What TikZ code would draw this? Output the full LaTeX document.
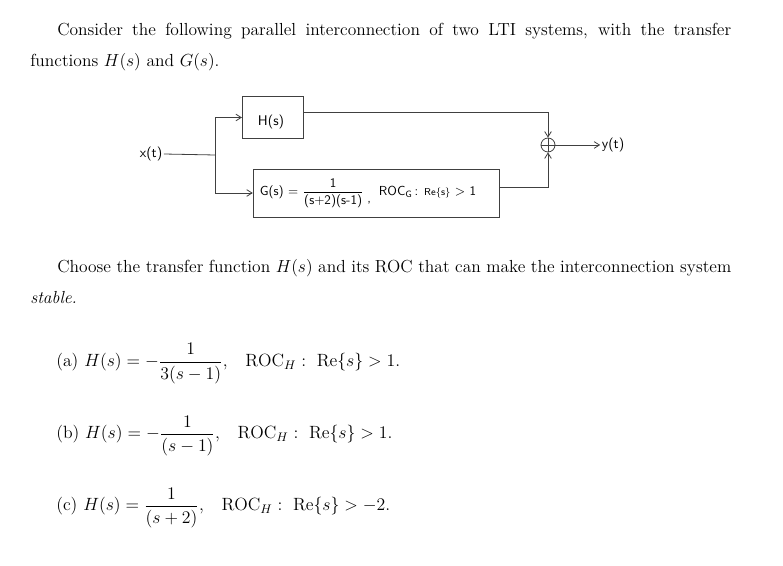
\RequirePackage{fix-cm}
\documentclass[tikz,border=0pt]{standalone}
\usepackage{amsmath}
\usepackage{fontspec}
\usetikzlibrary{arrows.meta}
\tikzset{
  txt/.style={anchor=base west, inner sep=0pt, font=\fontsize{13.1}{15}\selectfont},
  opt/.style={anchor=base west, inner sep=0pt, font=\fontsize{13.3}{15}\selectfont},
  hand/.style={inner sep=1pt, font=\fontsize{10.5}{12}\sffamily\addfontfeature{LetterSpace=8}},
  handline/.style={line width=0.6pt, draw=black!75},
  handarrow/.style={handline, -{Straight Barb[length=4pt,width=5pt]}},
  blockbox/.style={handline, rectangle, inner sep=0pt},
}
\begin{document}
\begin{tikzpicture}[x=0.75pt,y=-0.75pt]
\useasboundingbox[fill=white] (0,0) rectangle (783,566);
% text
\node[txt] (l1) at (57,36) {\makebox[505.5pt][s]{Consider the following parallel interconnection of two LTI systems, with the transfer}};
\node[txt] (l2) at (30,67) {functions $H(s)$ and $G(s)$.};
\node[txt] (l3) at (57,273) {\makebox[505.5pt][s]{Choose the transfer function $H(s)$ and its ROC that can make the interconnection system}};
\node[txt] (l4) at (30,304) {\textit{stable.}};
% options
\node[opt] (oa) at (56,367) {(a) $H(s) = -\dfrac{1}{3(s-1)}$,\quad $\mathrm{ROC}_H:\ \mathrm{Re}\{s\}>1.$};
\node[opt] (ob) at (56,439) {(b) $H(s) = -\dfrac{1}{(s-1)}$,\quad $\mathrm{ROC}_H:\ \mathrm{Re}\{s\}>1.$};
\node[opt] (oc) at (56,511) {(c) $H(s) = \dfrac{1}{(s+2)}$,\quad $\mathrm{ROC}_H:\ \mathrm{Re}\{s\}>-2.$};
% diagram
\node[hand] (x) at (151,154) {x(t)};
\coordinate (j) at (215,155);
\node[blockbox, minimum width=46pt, minimum height=32pt] (h) at (273,117.5) {};
\node[hand] (hl) at (271,122) {H(s)};
\node[blockbox, minimum width=185pt, minimum height=36pt] (g) at (376.5,193) {};
\node[hand, font=\fontsize{9.8}{11}\sffamily\addfontfeature{LetterSpace=7}] (gl) at (368,193)
  {G(s) = $\dfrac{\text{1}}{\text{(s+2)(s-1)}}$\raisebox{-1.2ex}{\;,}\; ROC$_\text{G}$\,: {\fontsize{7.5}{8}\selectfont Re\{s\}} $>$ 1};
\node[handline, circle, minimum size=10.5pt, inner sep=0pt] (sum) at (548,145) {};
\draw[handline] (sum.north) -- (sum.south) (sum.west) -- (sum.east);
\node[hand] (y) at (613,145) {y(t)};
\draw[handline] (x.east) -- (j);
\draw[handarrow] (j) |- (h.west);
\draw[handarrow] (j) |- (g.west);
\draw[handarrow] ([yshift=4pt]h.east) -| (sum.north);
\draw[handarrow] ([yshift=4pt]g.east) -| (sum.south);
\draw[handarrow] (sum.east) -- (y.west);
\end{tikzpicture}
\end{document}
